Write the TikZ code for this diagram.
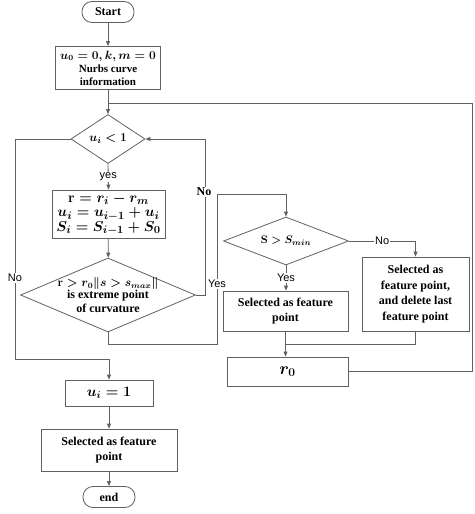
\documentclass[tikz,border=0pt]{standalone}
\usepackage{amsmath}
\usepackage{fontspec}
\setmainfont{Liberation Serif}
\newfontfamily\lblfont{Liberation Sans}
\usetikzlibrary{shapes.geometric,arrows.meta,calc}

\definecolor{linegray}{gray}{0.38}

\tikzset{
  term/.style={draw=linegray, line width=0.8pt, rounded corners=10pt, minimum width=52pt, minimum height=21pt, font=\fontsize{12}{14}\selectfont\bfseries},
  procbox/.style={draw=linegray, line width=0.8pt, align=center, inner sep=2pt, font=\boldmath\fontsize{12}{15.5}\selectfont\bfseries},
  smallbox/.style={procbox, font=\boldmath\fontsize{11}{13}\selectfont\bfseries},
  decide/.style={diamond, draw=linegray, line width=0.8pt, align=center, inner sep=-4pt, font=\boldmath\fontsize{12}{14}\selectfont\bfseries},
  flow/.style={draw=linegray, line width=0.8pt, -{Triangle[length=5pt,width=4pt]}},
  link/.style={draw=linegray, line width=0.8pt},
  yesno/.style={font=\lblfont\fontsize{11}{13}\selectfont, fill=white, inner sep=1pt},
}

\begin{document}
\begin{tikzpicture}[x=1pt,y=-1pt]
    \useasboundingbox (0,0) rectangle (474,514);

    % Main column
    \node[term] (start) at (108,12) {Start};
    \node[smallbox, minimum width=105pt, minimum height=43pt] (init) at (108,68) {\large$u_0=0,k,m=0$\\Nurbs curve\\information};
    \node[decide, minimum width=74pt, minimum height=49pt, font=\boldmath\fontsize{13}{15}\selectfont] (test1) at (108,139) {$u_i<1$};
    \node[procbox, minimum width=113pt, minimum height=48pt, inner sep=0pt, font=\boldmath\fontsize{15}{14.5}\selectfont] (update) at (108.5,214) {$\mathbf{r}=r_i-r_m$\\$u_i=u_{i-1}+u_i$\\$S_i=S_{i-1}+S_0$};
    \node[decide, aspect=2.4, minimum width=175pt, minimum height=74pt] (test2) at (108,295) {$\mathbf{r}>r_0\|s>s_{max}\|$\\[-2pt]is extreme point\\of curvature};
    \node[procbox, minimum width=88pt, minimum height=26pt, font=\boldmath\fontsize{14}{16}\selectfont] (uone) at (109,393) {$u_i=1$};
    \node[procbox, minimum width=136pt, minimum height=42pt] (pick3) at (109,450) {Selected as feature\\point};
    \node[term] (stop) at (109,497) {end};

    % Right branch
    \node[decide, aspect=2.6, minimum width=125pt, minimum height=48pt, font=\boldmath\fontsize{11}{13}\selectfont] (test3) at (286,241) {$\mathbf{S}>S_{min}$};
    \node[procbox, minimum width=125pt, minimum height=40pt] (pick1) at (285.5,311) {Selected as feature\\point};
    \node[procbox, minimum width=107pt, minimum height=74pt] (pick2) at (415.5,294) {Selected as\\feature point,\\and delete last\\feature point};
    \node[procbox, minimum width=121pt, minimum height=29pt, font=\boldmath\fontsize{18}{20}\selectfont] (rnull) at (287.5,371.5) {$r_0$};

    % Corner points
    \coordinate (loopR) at (472,103);
    \coordinate (noL) at (15,359);
    \coordinate (yesB) at (217,344);
    \coordinate (yesT) at (217,194);

    % Connectors
    \draw[flow] (start) -- (init);
    \draw[flow] (init) -- (test1);
    \draw[link] (rnull.east) -| (loopR) -- (loopR -| test1);
    \draw[flow] (test1.west) -| (noL) -| (uone.north);
    \draw[flow] (test1.south) -- node[yesno] (yes1) {yes} (update.north);
    \draw[flow] (update) -- (test2);
    \draw[flow] (test2.east) -- ++(9,0) |- (test1.east);
    \draw[flow] (test2.south) |- (yesB) -- (yesT) -| (test3.north);
    \draw[flow] (test3.east) -| node[yesno, pos=0.25] (no3) {No} (pick2.north);
    \draw[flow] (test3.south) -- node[yesno] (yes3) {Yes} (test3.south |- pick1.north);
    \draw[flow] (pick1.south) -- (pick1.south |- rnull.north);
    \draw[link] (pick2.south) |- ($(pick1.south)!0.5!(pick1.south |- rnull.north)$);
    \draw[flow] (uone) -- (pick3);
    \draw[flow] (pick3) -- (stop);

    % Labels on the long lines
    \node[yesno] (no1) at (15,278) {No};
    \node[yesno, font=\fontsize{12}{14}\selectfont\bfseries] (no2) at (204,192) {No};
    \node[yesno] (yes2) at (217,284) {Yes};
\end{tikzpicture}
\end{document}
